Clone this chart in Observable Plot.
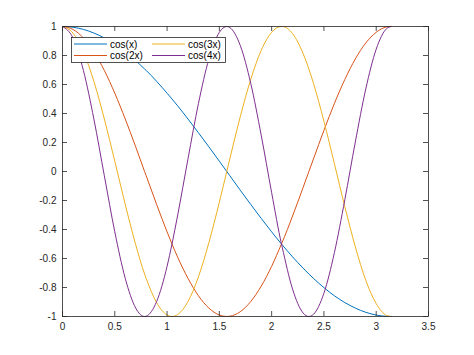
<!DOCTYPE html>
<html><head><meta charset="utf-8">
<script src="https://cdn.jsdelivr.net/npm/d3@7"></script>
<script src="https://cdn.jsdelivr.net/npm/@observablehq/plot@0.6"></script>
<style>body{margin:0;background:#fff;font-family:"Liberation Sans",Arial,sans-serif}</style>
</head><body><div id="chart"></div>
<script>
const xs = [0,0.1,0.2,0.3,0.4,0.5,0.6,0.7,0.785,0.8,0.9,1.0,1.047,1.1,1.2,1.3,1.4,1.5,1.571,1.6,1.7,1.8,1.9,2.0,2.094,2.1,2.2,2.3,2.356,2.4,2.5,2.6,2.7,2.8,2.9,3.0,3.1,3.142];
const cosX  = [1,0.995,0.980,0.955,0.921,0.878,0.825,0.765,0.707,0.697,0.622,0.540,0.500,0.454,0.362,0.267,0.170,0.071,0.000,-0.029,-0.129,-0.227,-0.323,-0.416,-0.500,-0.505,-0.589,-0.666,-0.707,-0.737,-0.801,-0.857,-0.904,-0.942,-0.971,-0.990,-0.999,-1];
const cos2X = [1,0.980,0.921,0.825,0.697,0.540,0.362,0.170,0.000,-0.029,-0.227,-0.416,-0.500,-0.589,-0.737,-0.857,-0.942,-0.990,-1,-0.998,-0.967,-0.897,-0.791,-0.654,-0.500,-0.490,-0.307,-0.112,0.000,0.087,0.284,0.469,0.635,0.776,0.886,0.960,0.997,1];
const cos3X = [1,0.955,0.825,0.622,0.362,0.071,-0.227,-0.505,-0.707,-0.737,-0.904,-0.990,-1,-0.987,-0.897,-0.726,-0.490,-0.211,0,0.087,0.378,0.635,0.835,0.960,1,1.000,0.951,0.815,0.707,0.608,0.347,0.054,-0.243,-0.519,-0.750,-0.911,-0.993,-1];
const cos4X = [1,0.921,0.697,0.362,-0.029,-0.416,-0.737,-0.942,-1,-0.998,-0.897,-0.654,-0.500,-0.307,0.087,0.469,0.776,0.960,1,0.993,0.869,0.608,0.251,-0.146,-0.500,-0.519,-0.811,-0.975,-1,-0.985,-0.839,-0.560,-0.194,0.203,0.569,0.844,0.986,1];
const seriesNames = ["cos(x)","cos(2x)","cos(3x)","cos(4x)"];
const seriesValues = [cosX, cos2X, cos3X, cos4X];
const colors = ["#0072BD","#D95319","#EDB120","#7E2F8E"];
const xTicks = [0,0.5,1,1.5,2,2.5,3,3.5];
const yTicks = [-1,-0.8,-0.6,-0.4,-0.2,0,0.2,0.4,0.6,0.8,1];

const data = [];
seriesNames.forEach((name, i) => xs.forEach((x, j) => data.push({series: name, x, y: seriesValues[i][j]})));

const W = 474, H = 355, mL = 62, mR = 46, mT = 26, mB = 39;
const innerH = H - mT - mB, innerW = W - mL - mR, tk = 5;
const fmt = d => String(Math.round(d * 10) / 10);

const plot = Plot.plot({
  width: W, height: H,
  marginLeft: mL, marginRight: mR, marginTop: mT, marginBottom: mB,
  style: {fontFamily: '"Liberation Sans", Arial, sans-serif', fontSize: "10px", color: "#262626", background: "#fff"},
  x: {domain: [0, 3.5]},
  y: {domain: [-1, 1]},
  color: {domain: seriesNames, range: colors},
  marks: [
    Plot.line(data, {x: "x", y: "y", z: "series", stroke: "series", strokeWidth: 1, curve: "monotone-x"}),
    Plot.frame({stroke: "#262626", strokeWidth: 0.8}),
    Plot.tickX(xTicks, {x: d => d, stroke: "#262626", strokeWidth: 0.8, insetTop: innerH - tk}),
    Plot.tickX(xTicks, {x: d => d, stroke: "#262626", strokeWidth: 0.8, insetBottom: innerH - tk}),
    Plot.tickY(yTicks, {y: d => d, stroke: "#262626", strokeWidth: 0.8, insetRight: innerW - tk}),
    Plot.tickY(yTicks, {y: d => d, stroke: "#262626", strokeWidth: 0.8, insetLeft: innerW - tk}),
    Plot.axisX({ticks: xTicks, tickSize: 0, tickPadding: 6, tickFormat: fmt, label: null, fill: "#262626"}),
    Plot.axisY({ticks: yTicks, tickSize: 0, tickPadding: 6, tickFormat: fmt, label: null, fill: "#262626"})
  ]
});
document.getElementById("chart").appendChild(plot);

// Legend
const svg = d3.select(plot);
const lg = svg.append("g").attr("font-family", '"Liberation Sans", Arial, sans-serif').attr("font-size", 10).attr("text-anchor", "start");
lg.append("rect").attr("x", 71.5).attr("y", 37.5).attr("width", 154).attr("height", 25)
  .attr("fill", "#fff").attr("stroke", "#262626").attr("stroke-width", 0.8);
const pos = [[74, 44], [74, 55.5], [152, 44], [152, 55.5]];
seriesNames.forEach((name, i) => {
  const [px, py] = pos[i];
  lg.append("line").attr("x1", px).attr("x2", px + 33).attr("y1", py).attr("y2", py)
    .attr("stroke", colors[i]).attr("stroke-width", 1);
  lg.append("text").attr("x", px + 36).attr("y", py).attr("dy", "0.35em").attr("fill", "#000").attr("text-anchor", "start").text(name);
});
</script></body></html>
